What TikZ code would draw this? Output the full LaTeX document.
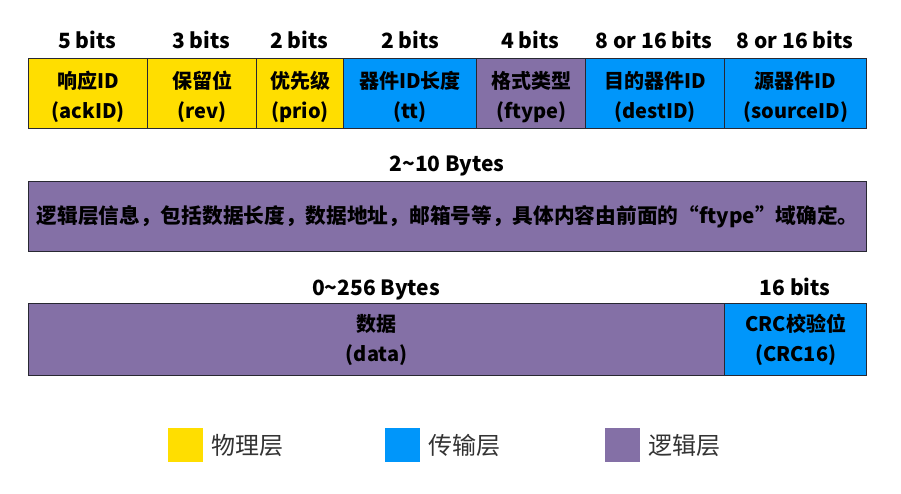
\documentclass[tikz,border=0pt]{standalone}
\usepackage{fontspec}
\setmainfont{Noto Sans CJK SC}
\definecolor{ylw}{RGB}{255,222,0}
\definecolor{blu}{RGB}{0,150,250}
\definecolor{pur}{RGB}{132,112,166}
\definecolor{edge}{RGB}{40,40,50}
\newcommand{\lowr}{\rule{0pt}{24pt}}
\tikzset{
  field/.style={draw=edge, line width=1.3pt, inner sep=0pt, anchor=north west, align=center,
     font=\fontsize{20}{30}\selectfont\bfseries},
  hdr/.style={inner sep=0pt, text height=15pt, text depth=5pt, font=\fontsize{21}{24}\selectfont\bfseries},
  swatch/.style={minimum width=35pt, minimum height=34pt, inner sep=0pt, anchor=north west},
  legtxt/.style={inner sep=0pt, anchor=west, font=\fontsize{24}{26}\selectfont, text=black!80}
}
\begin{document}
\begin{tikzpicture}[x=1pt,y=-1pt]
\useasboundingbox[fill=white] (0,0) rectangle (901,494);
% row 1
\node[field, fill=ylw, minimum width=119pt, minimum height=70pt] (ack) at (28,58) {\lowr 响应ID\\(ackID)};
\node[field, fill=ylw, minimum width=109pt, minimum height=70pt] (rev) at (147,58) {\lowr 保留位\\(rev)};
\node[field, fill=ylw, minimum width=87pt, minimum height=70pt] (prio) at (256,58) {\lowr 优先级\\(prio)};
\node[field, fill=blu, minimum width=133pt, minimum height=70pt] (tt) at (343,58) {\lowr 器件ID长度\\(tt)};
\node[field, fill=pur, minimum width=109pt, minimum height=70pt] (ftype) at (476,58) {\lowr 格式类型\\(ftype)};
\node[field, fill=blu, minimum width=139pt, minimum height=70pt] (dest) at (585,58) {\lowr 目的器件ID\\(destID)};
\node[field, fill=blu, minimum width=142pt, minimum height=70pt] (src) at (724,58) {\lowr 源器件ID\\(sourceID)};
\node[hdr] (hack) at (87,44) {5 bits};
\node[hdr] (hrev) at (201,44) {3 bits};
\node[hdr] (hprio) at (299,44) {2 bits};
\node[hdr] (htt) at (410,44) {2 bits};
\node[hdr] (hftype) at (530,44) {4 bits};
\node[hdr] (hdest) at (654,44) {8 or 16 bits};
\node[hdr] (hsrc) at (795,44) {8 or 16 bits};
% row 2
\node[hdr] (hlog) at (447,167) {2\textasciitilde 10 Bytes};
\node[field, fill=pur, minimum width=838pt, minimum height=70pt, font=\fontsize{20.7}{24}\selectfont\bfseries] (log) at (28,181) {逻辑层信息，包括数据长度，数据地址，邮箱号等，具体内容由前面的“ftype”域确定。};
% row 3
\node[hdr] (hdata) at (376,290) {0\textasciitilde 256 Bytes};
\node[hdr] (hcrc) at (795,290) {16 bits};
\node[field, fill=pur, minimum width=696pt, minimum height=72pt] (data) at (28,303) {数据\\(data)};
\node[field, fill=blu, minimum width=142pt, minimum height=72pt] (crc) at (724,303) {CRC校验位\\(CRC16)};
% legend
\node[swatch, fill=ylw] (s1) at (168,428) {};
\node[legtxt] (l1) at ([xshift=8pt]s1.east) {物理层};
\node[swatch, fill=blu] (s2) at (385,428) {};
\node[legtxt] (l2) at ([xshift=8pt]s2.east) {传输层};
\node[swatch, fill=pur] (s3) at (605,428) {};
\node[legtxt] (l3) at ([xshift=8pt]s3.east) {逻辑层};
\end{tikzpicture}
\end{document}
